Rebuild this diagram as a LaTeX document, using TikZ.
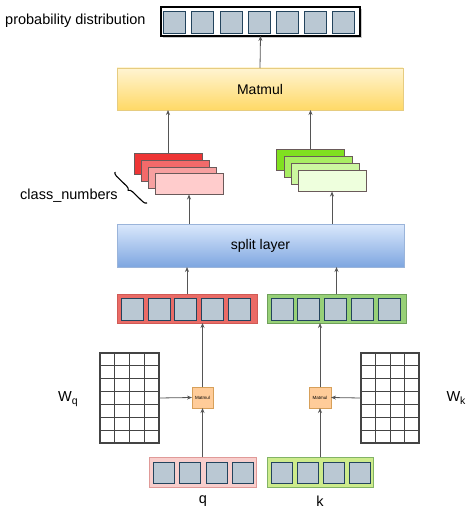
\documentclass[tikz,border=0pt]{standalone}
\usepackage{fontspec}
\setmainfont{Liberation Sans}
\usetikzlibrary{shadows,decorations.pathreplacing,arrows.meta,calc}
\definecolor{cellfill}{HTML}{BAC8D3}
\definecolor{celldraw}{HTML}{23445D}
\definecolor{mmtop}{HTML}{FFF4D2}
\definecolor{mmbot}{HTML}{FFD966}
\definecolor{mmdraw}{HTML}{E6CC80}
\definecolor{sptop}{HTML}{DAE8FC}
\definecolor{spbot}{HTML}{7EA6E0}
\definecolor{spdraw}{HTML}{9AB4DA}
\definecolor{redrowfill}{HTML}{EA6B66}
\definecolor{redrowdraw}{HTML}{D05A55}
\definecolor{greenrowfill}{HTML}{97D077}
\definecolor{greenrowdraw}{HTML}{6FA05A}
\definecolor{redA}{HTML}{EE3535}
\definecolor{redB}{HTML}{F26A6A}
\definecolor{redC}{HTML}{F7A0A0}
\definecolor{redD}{HTML}{FFCCCC}
\definecolor{grA}{HTML}{80E020}
\definecolor{grB}{HTML}{A8EE62}
\definecolor{grC}{HTML}{CCF7A0}
\definecolor{grD}{HTML}{EEFFDD}
\definecolor{stackdraw}{HTML}{6A5A5A}
\definecolor{qfill}{HTML}{F8CECC}
\definecolor{qdraw}{HTML}{E09A98}
\definecolor{kfill}{HTML}{CDEB8B}
\definecolor{kdraw}{HTML}{82B366}
\definecolor{smfill}{HTML}{FFCC99}
\definecolor{smdraw}{HTML}{D7A05A}
\definecolor{arrowc}{HTML}{555555}
\definecolor{gridc}{HTML}{444444}
\begin{document}
\begin{tikzpicture}[x=1pt,y=-1pt,
  box/.style={draw, rectangle, inner sep=0pt, outer sep=0pt},
  cellbox/.style={box, fill=cellfill, draw=celldraw, line width=0.8pt, minimum width=22pt, minimum height=22pt},
  stackbox/.style={box, draw=stackdraw, line width=0.8pt, minimum width=68pt, minimum height=21pt},
  arr/.style={-{Stealth[length=5pt,width=4pt]}, draw=arrowc, line width=0.8pt},
  lbl/.style={font=\fontsize{14.5}{17}\selectfont},
  gridbox/.style={box, draw=gridc, line width=1.1pt, fill=white, minimum width=59pt, minimum height=90pt,
    drop shadow={shadow xshift=1pt, shadow yshift=-1pt, fill=black!35}},
  gridline/.style={draw=gridc, line width=0.9pt}
]
\useasboundingbox (0,0) rectangle (474,513);

% top probability distribution
\node[box, line width=1.4pt, fill=white, minimum width=199pt, minimum height=29pt,
  drop shadow={shadow xshift=2pt, shadow yshift=-2pt, fill=black!40}] (prob) at (260.5,21.5) {};
\foreach \i in {0,...,6} \node[cellbox] (p\i) at (174.5+28.2*\i,22) {};
\node[lbl, anchor=east] (problbl) at (149,21) {probability distribution};

% Matmul
\node[box, draw=mmdraw, top color=mmtop, bottom color=mmbot, minimum width=286pt, minimum height=42pt,
  font=\fontsize{14}{17}\selectfont] (matmul) at (260,89) {Matmul};

% red stack
\node[stackbox, fill=redA] (rA) at (168,163.5) {};
\node[stackbox, fill=redB] (rB) at (175,170.5) {};
\node[stackbox, fill=redC] (rC) at (182,177.5) {};
\node[stackbox, fill=redD] (rD) at (189,184) {};
% green stack
\node[stackbox, fill=grA] (gA) at (310.5,159.5) {};
\node[stackbox, fill=grB] (gB) at (318,166.5) {};
\node[stackbox, fill=grC] (gC) at (325,173.5) {};
\node[stackbox, fill=grD] (gD) at (332,181) {};

% brace and label
\coordinate (brA) at (147,203);
\coordinate (brB) at (115,172);
\draw[decorate, decoration={brace, amplitude=4pt}, line width=1.1pt] (brA) -- (brB);
\node[lbl] (cls) at (69,196) {class\_numbers};

% split layer
\node[box, draw=spdraw, top color=sptop, bottom color=spbot, minimum width=287pt, minimum height=43pt,
  font=\fontsize{14}{17}\selectfont] (split) at (260.5,245.5) {split layer};

% rows
\node[box, fill=redrowfill, draw=redrowdraw, line width=1pt, minimum width=140pt, minimum height=29pt] (qrow) at (187,308.5) {};
\foreach \i in {0,...,4} \node[cellbox] (qc\i) at (132+26.9*\i,309) {};
\node[box, fill=greenrowfill, draw=greenrowdraw, line width=1pt, minimum width=139pt, minimum height=29pt] (krow) at (336.5,308.5) {};
\foreach \i in {0,...,4} \node[cellbox] (kc\i) at (282+26.75*\i,309) {};

% small matmuls
\node[box, fill=smfill, draw=smdraw, line width=0.8pt, minimum width=21pt, minimum height=21pt,
  font=\fontsize{4.5}{5}\selectfont] (mmq) at (202.5,397.5) {Matmul};
\node[box, fill=smfill, draw=smdraw, line width=0.8pt, minimum width=22pt, minimum height=21pt,
  font=\fontsize{4.5}{5}\selectfont] (mmk) at (320,397.5) {Matmul};

% grids
\node[gridbox] (gridq) at (129.5,398) {};
\node[gridbox, minimum width=58pt] (gridk) at (390,398) {};
\foreach \i in {1,2,3} {
  \draw[gridline] ({100+14.75*\i},353) -- ({100+14.75*\i},443);
  \draw[gridline] ({361+14.5*\i},353) -- ({361+14.5*\i},443);
}
\foreach \i in {1,...,6} {
  \draw[gridline] (100,{353+12.857*\i}) -- (159,{353+12.857*\i});
  \draw[gridline] (361,{353+12.857*\i}) -- (419,{353+12.857*\i});
}
\node[lbl] (wq) at (68,399) {W\raisebox{-0.45ex}{\fontsize{10.5}{12}\selectfont q}};
\node[lbl] (wk) at (456,398) {W\raisebox{-0.45ex}{\fontsize{10.5}{12}\selectfont k}};

% inputs
\node[box, fill=qfill, draw=qdraw, line width=1pt, minimum width=107pt, minimum height=30pt] (qin) at (202.5,472) {};
\foreach \i in {0,...,3} \node[cellbox, minimum width=21pt, minimum height=21pt] (qi\i) at (164+26.2*\i,472.5) {};
\node[box, fill=kfill, draw=kdraw, line width=1pt, minimum width=106pt, minimum height=30pt] (kin) at (320,472) {};
\foreach \i in {0,...,3} \node[cellbox, minimum width=21pt, minimum height=21pt] (ki\i) at (282+25.8*\i,472.5) {};
\node[lbl] (ql) at (203,501) {q};
\node[lbl] (kl) at (320,501) {k};

% connectors
\draw[arr] (matmul.north) -- (prob.south);
\draw[arr] (rA.north) -- (rA.north |- matmul.south);
\draw[arr] (gA.north) -- (gA.north |- matmul.south);
\draw[arr] (split.north -| rD.south) -- (rD.south);
\draw[arr] (split.north -| gD.south) -- (gD.south);
\draw[arr] (qrow.north) -- (qrow.north |- split.south);
\draw[arr] (krow.north) -- (krow.north |- split.south);
\draw[arr] (mmq.north) -- (mmq.north |- qrow.south);
\draw[arr] (mmk.north) -- (mmk.north |- krow.south);
\draw[arr] (qin.north) -- (mmq.south);
\draw[arr] (kin.north) -- (mmk.south);
\draw[arr] (gridq.east) -- (mmq.west);
\draw[arr] (gridk.west) -- (mmk.east);
\end{tikzpicture}
\end{document}
